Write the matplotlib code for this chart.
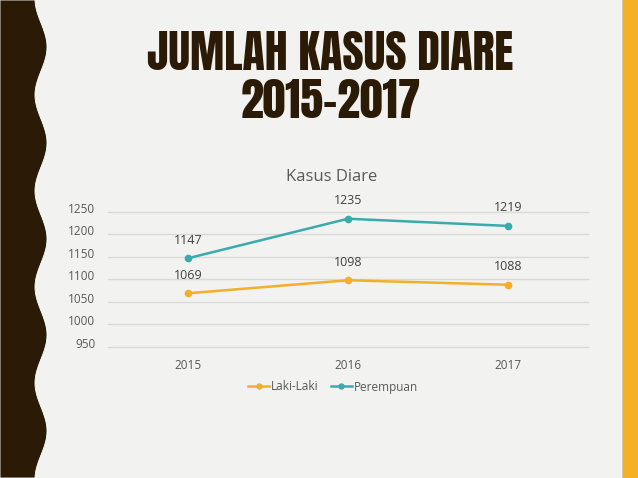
import numpy as np
import matplotlib
matplotlib.use("Agg")
import matplotlib.pyplot as plt
from matplotlib.patches import Polygon, Rectangle
from matplotlib import transforms

years = ["2015", "2016", "2017"]
laki = [1069, 1098, 1088]
perempuan = [1147, 1235, 1219]
yticks = [950, 1000, 1050, 1100, 1150, 1200, 1250]

W, H = 638, 478
fig = plt.figure(figsize=(W / 100, H / 100), dpi=100)
fig.patch.set_facecolor("#F2F2F0")

# left wavy border
ys = np.linspace(0, H, 400)
xs = 41 + 6 * np.cos(2 * np.pi * (ys - 47) / 96)
pts = [(0, 1)] + [(x / W, 1 - y / H) for x, y in zip(xs, ys)] + [(0, 0)]
fig.patches.append(Polygon(pts, closed=True, transform=fig.transFigure,
                           facecolor="#2B1B06", edgecolor="#FFFFFF", lw=0.6, zorder=0))
# right strip
fig.patches.append(Rectangle((622 / W, 0), 1 / W, 1, transform=fig.transFigure,
                             facecolor="#D9C9A0", edgecolor="none", zorder=0))
fig.patches.append(Rectangle((623 / W, 0), 15 / W, 1, transform=fig.transFigure,
                             facecolor="#F5B024", edgecolor="none", zorder=0))

# title
tfam = ["Anton", "Oswald", "DejaVu Sans"]
fig.text(330 / W, 1 - 54 / H, "JUMLAH KASUS DIARE", ha="center", va="center",
         fontsize=33, family=tfam, color="#2B1B06")
fig.text(331 / W, 1 - 101 / H, "2015-2017", ha="center", va="center",
         fontsize=33, family=tfam, color="#2B1B06")

ax = fig.add_axes([108 / W, (H - 346.7) / H, 480 / W, 134.7 / H])
ax.set_facecolor("none")
x = np.arange(len(years))
ax.plot(x, laki, color="#F5AE28", lw=1.8, marker="o", ms=4.5, label="Laki-Laki", zorder=3)
ax.plot(x, perempuan, color="#3AABAD", lw=1.8, marker="o", ms=4.5, label="Perempuan", zorder=3)
for xi, v in zip(x, laki):
    ax.annotate(str(v), (xi, v), xytext=(0, 13), textcoords="offset points",
                ha="center", va="center", fontsize=9, color="#404040", family="Open Sans")
for xi, v in zip(x, perempuan):
    ax.annotate(str(v), (xi, v), xytext=(0, 13), textcoords="offset points",
                ha="center", va="center", fontsize=9, color="#404040", family="Open Sans")

ax.set_xlim(-0.5, 2.5)
ax.set_ylim(950, 1250)
ax.set_yticks(yticks)
ax.set_xticks(x)
ax.set_xticklabels(years)
ax.grid(axis="y", color="#D9D9D9", lw=1)
for gl in ax.get_ygridlines():
    gl.set_clip_on(False)
ax.set_axisbelow(True)
for s in ax.spines.values():
    s.set_visible(False)
ax.tick_params(length=0, labelsize=8.5, labelcolor="#595959")
ax.tick_params(axis="y", pad=9)
ax.tick_params(axis="x", pad=9)
for lab in ax.get_yticklabels() + ax.get_xticklabels():
    lab.set_family("Open Sans")
off = transforms.ScaledTranslation(0, 4 / 100, fig.dpi_scale_trans)
for lab in ax.get_yticklabels():
    lab.set_transform(lab.get_transform() + off)

fig.text(332 / W, 1 - 177 / H, "Kasus Diare", ha="center", va="center",
         fontsize=12, color="#595959", family="Open Sans")

leg = ax.legend(loc="center", bbox_to_anchor=(333 / W, 1 - 387 / H), bbox_transform=fig.transFigure,
                ncol=2, frameon=False, prop={"family": "Open Sans", "size": 8.5},
                handlelength=1.8, handletextpad=0.15, columnspacing=1.0, markerscale=0.8)
for t in leg.get_texts():
    t.set_color("#595959")

fig.savefig("out.png", dpi=100, facecolor=fig.get_facecolor())
